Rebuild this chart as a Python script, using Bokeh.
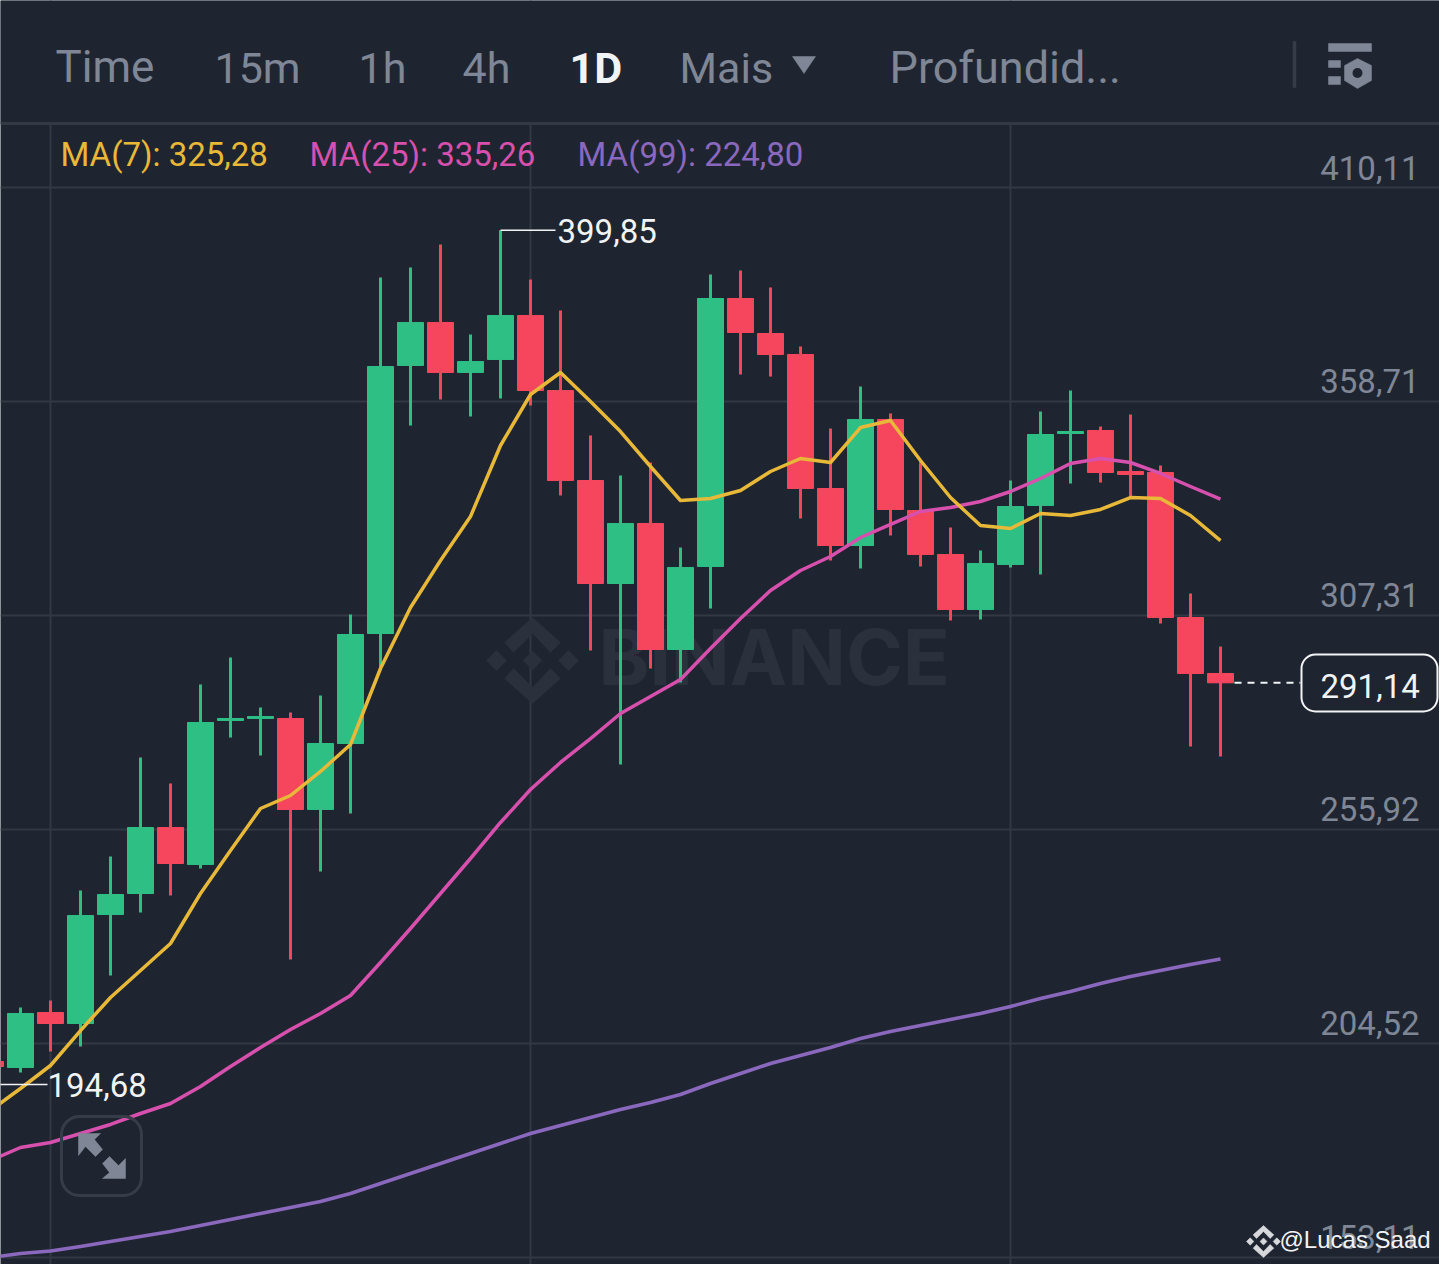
from bokeh.embed import file_html
from bokeh.resources import INLINE
from bokeh.models import BoxAnnotation, ColumnDataSource, FixedTicker, Label, Span
from bokeh.plotting import figure

# ---------- data ----------
index = list(range(-1, 41))
opens = [200.18, 198.74, 211.95, 209.31, 235.49, 240.53, 256.38, 247.50, 282.09, 282.57, 282.57, 260.71, 276.56, 302.98,
         367.36, 377.69, 365.68, 368.80, 379.37, 361.35, 339.73, 314.99, 329.41, 299.14, 319.08, 383.45, 375.04, 370.00,
         337.81, 324.12, 354.39, 332.53, 321.96, 308.75, 319.56, 333.73, 351.02, 351.74, 341.90, 341.66, 306.83, 293.38]
highs = [203.50, 213.15, 214.83, 241.25, 249.42, 273.20, 266.95, 290.73, 297.22, 285.21, 284.01, 288.09, 307.55, 388.49,
         390.90, 396.42, 374.80, 399.85, 388.01, 380.57, 350.54, 340.93, 344.06, 323.64, 389.22, 390.18, 386.09, 371.92,
         352.22, 362.31, 355.83, 344.54, 328.44, 322.92, 339.73, 356.31, 361.35, 352.70, 355.59, 343.34, 312.59, 299.86]
lows = [194.68, 197.54, 202.58, 203.78, 220.83, 235.97, 240.05, 246.54, 278.00, 273.68, 224.68, 245.82, 259.75, 294.82,
        352.94, 359.19, 355.11, 359.43, 357.75, 336.13, 298.90, 271.52, 294.58, 291.21, 308.99, 365.20, 364.71, 330.61,
        320.52, 318.60, 326.52, 319.08, 306.11, 306.35, 318.84, 317.16, 339.01, 339.25, 335.65, 305.39, 275.84, 273.44]
closes = [198.98, 211.71, 209.31, 235.25, 240.29, 256.38, 247.74, 281.61, 282.57, 283.05, 260.71, 276.56, 302.74, 367.12,
          377.69, 365.68, 368.32, 379.37, 361.35, 339.73, 314.99, 329.41, 299.14, 318.84, 383.45, 375.28, 370.00, 337.81,
          324.12, 354.39, 332.77, 321.96, 308.75, 319.80, 333.49, 350.78, 351.50, 341.66, 341.18, 306.83, 293.38, 291.14]
ma7 = [188.41, 193.69, 199.22, 207.62, 215.55, 222.04, 228.52, 240.53, 250.86, 260.95, 264.07, 269.84, 276.32, 294.58,
       309.23, 320.52, 331.09, 348.14, 360.39, 365.68, 358.71, 351.50, 343.10, 334.93, 335.41, 337.33, 341.90, 345.02,
       344.06, 352.46, 354.15, 344.54, 335.65, 328.92, 328.20, 331.81, 331.33, 332.77, 335.65, 335.41, 331.33, 325.28]
ma25 = [176.40, 179.52, 180.72, 182.88, 185.05, 187.69, 190.09, 194.17, 198.98, 203.54, 207.86, 211.71, 216.03, 223.96,
        232.12, 240.53, 248.94, 257.59, 265.51, 272.00, 277.76, 283.77, 287.85, 291.93, 299.38, 306.59, 313.31, 318.12,
        321.48, 326.04, 329.17, 332.29, 333.25, 334.69, 337.09, 340.21, 343.82, 345.02, 344.06, 341.42, 338.29, 335.26]
ma99 = [153.10, 154.06, 154.66, 155.74, 156.94, 158.14, 159.34, 160.78, 162.23, 163.67, 165.11, 166.55, 168.47, 170.87,
        173.28, 175.68, 178.08, 180.48, 182.88, 184.80, 186.73, 188.65, 190.33, 192.25, 194.89, 197.30, 199.70, 201.62,
        203.54, 205.70, 207.38, 208.82, 210.27, 211.71, 213.39, 215.31, 216.99, 218.91, 220.59, 222.04, 223.48, 224.80]
price_ticks = [410.11, 358.71, 307.31, 255.92, 204.52, 153.11]
price_tick_labels = ["410,11", "358,71", "307,31", "255,92", "204,52", "153,11"]
time_ticks = [1, 17, 33]
last_price = 291.14
high_price = 399.85
high_index = 16
low_price = 194.68
low_index = -1
intervals = ["Time", "15m", "1h", "4h", "1D", "Mais", "Profundid..."]
ma_labels = ["MA(7): 325,28", "MA(25): 335,26", "MA(99): 224,80"]

# ---------- style ----------
BG = "#1f2530"
GRID = "#323943"
GREEN = "#2ebf85"
RED = "#f6465d"
YELLOW = "#e8b838"
MAGENTA = "#d850ae"
PURPLE = "#8a68be"
GREY = "#7f8796"
WM = "#2b313c"
WHITE = "#f2f3f5"
FONT = "Roboto"


def X(px):
    return (px - 20) / 30


def Y(px):
    return 455.03 - 0.2402 * px


def text(px, baseline, label, size, color, font=FONT, style="normal"):
    # Bokeh's alphabetic baseline sits about 0.4 em below the requested point
    p.add_layout(Label(x=X(px), y=Y(baseline - 0.4 * size), text=label, text_font=font, text_font_style=style,
                       text_font_size=f"{size}px", text_color=color, text_baseline="alphabetic"))


p = figure(width=1439, height=1264, x_range=(X(0), X(1439)), y_range=(Y(1264), Y(0)),
           output_backend="svg", toolbar_location=None, min_border=0,
           background_fill_color=BG, border_fill_color=BG, outline_line_color=None)
p.xaxis.visible = False
p.yaxis.visible = False
p.xgrid.ticker = FixedTicker(ticks=time_ticks)
p.ygrid.ticker = FixedTicker(ticks=price_ticks)
p.xgrid.grid_line_color = GRID
p.ygrid.grid_line_color = GRID
p.xgrid.grid_line_width = 2
p.ygrid.grid_line_width = 2


def poly(points, color):
    p.patch([X(a) for a, b in points], [Y(b) for a, b in points], fill_color=color, line_color=color, line_width=0.5)


def logo(cx, cy, s, color):
    for dx in (-36, 0, 36):
        r = 10 if dx else 9.5
        poly([(cx + dx * s, cy - r * s), (cx + dx * s + r * s, cy), (cx + dx * s, cy + r * s), (cx + dx * s - r * s, cy)], color)
    for sign in (1, -1):
        pts = [(-28, -18), (0, -43), (28, -18), (18, -8), (0, -27), (-19, -8)]
        poly([(cx + a * s, cy + sign * b * s) for a, b in pts], color)


# watermark (a glyph, so that the candles and lines paint over it)
logo(532, 660, 1.0, WM)
p.text(x=[X(598)], y=[Y(687)], text=["BINANCE"], text_font={"value": "Inter"}, text_font_style="bold",
       text_font_size={"value": "77px"}, text_color=WM, text_baseline="alphabetic", y_offset=-31)

# header band
p.quad(left=[X(0)], right=[X(1439)], top=[Y(0)], bottom=[Y(123)], fill_color=BG, line_color=None)
p.add_layout(Span(location=Y(123), dimension="width", line_color=GRID, line_width=3))

# candles
colors = [GREEN if c >= o else RED for o, c in zip(opens, closes)]
source = ColumnDataSource(dict(x=index, open=opens, close=closes, high=highs, low=lows, color=colors))
p.segment(x0="x", x1="x", y0="low", y1="high", line_color="color", line_width=3, source=source)
p.vbar(x="x", width=26 / 30, top="open", bottom="close", fill_color="color", line_color="color", line_width=1, source=source)

# moving averages
for values, col in ((ma99, PURPLE), (ma25, MAGENTA), (ma7, YELLOW)):
    p.line(index, values, line_color=col, line_width=3.5, line_join="round")

# header texts
header_x = [55, 214, 358, 462, 569, 679, 889]
header_size = [44, 43, 43, 43, 43, 43, 45]
for label, px, size in zip(intervals, header_x, header_size):
    active = label == "1D"
    text(px, 84.5, label, size, WHITE if active else GREY, style="bold" if active else "normal")
poly([(792, 56), (815, 56), (803.5, 73)], GREY)
poly([(1292.5, 41), (1295.5, 41), (1295.5, 87), (1292.5, 87)], "#363d48")

# settings icon
poly([(1328, 43), (1371, 43), (1371, 51), (1328, 51)], GREY)
poly([(1328, 60), (1340, 60), (1340, 67), (1328, 67)], GREY)
poly([(1328, 76), (1340, 76), (1340, 84), (1328, 84)], GREY)
poly([(1357, 58), (1371, 65), (1371, 80), (1357, 88), (1344, 80), (1344, 65)], GREY)
p.scatter([X(1357)], [Y(72.5)], size=10, fill_color=BG, line_color=None)

# legend
for label, px, col in zip(ma_labels, (60, 309, 577), (YELLOW, MAGENTA, PURPLE)):
    text(px, 167, label, 33, col)

# price tick labels
p.text(x=[X(1419)] * len(price_ticks), y=price_ticks, text=price_tick_labels, text_font={"value": FONT},
       text_font_size={"value": "33px"}, text_color=GREY, text_align="right", text_baseline="alphabetic", y_offset=-20)

# high / low markers
p.line([high_index, X(555)], [high_price, high_price], line_color=WHITE, line_width=1.5)
text(557, 244, "399,85", 33, WHITE)
p.line([low_index, X(47)], [low_price, low_price], line_color=WHITE, line_width=1.5)
text(47, 1098, "194,68", 33, WHITE)

# last price tag
p.line([X(1234), X(1300)], [last_price, last_price], line_color=WHITE, line_width=2, line_dash=[7, 6])
p.add_layout(BoxAnnotation(left=X(1301), right=X(1437), top=Y(654), bottom=Y(711), border_radius=14,
                           fill_color=BG, fill_alpha=1, line_color=WHITE, line_width=2, line_alpha=1))
text(1320, 699, "291,14", 33, WHITE)

# expand button
p.add_layout(BoxAnnotation(left=X(61), right=X(141), top=Y(1116), bottom=Y(1195), border_radius=18,
                           fill_alpha=0, line_color="#363d48", line_width=3, line_alpha=1))
poly([(78, 1133), (100, 1133), (94, 1139), (102, 1149), (95, 1156), (85, 1146), (78, 1155)], GREY)
poly([(125, 1178), (102, 1178), (109, 1172), (102, 1163), (109, 1156), (118, 1165), (125, 1158)], GREY)

# attribution
logo(1263, 1241, 0.37, "#d6d8dc")
text(1279, 1249, "@Lucas Saad", 24, WHITE, font="Liberation Sans")

open("out.html", "w").write(file_html(p, INLINE))
